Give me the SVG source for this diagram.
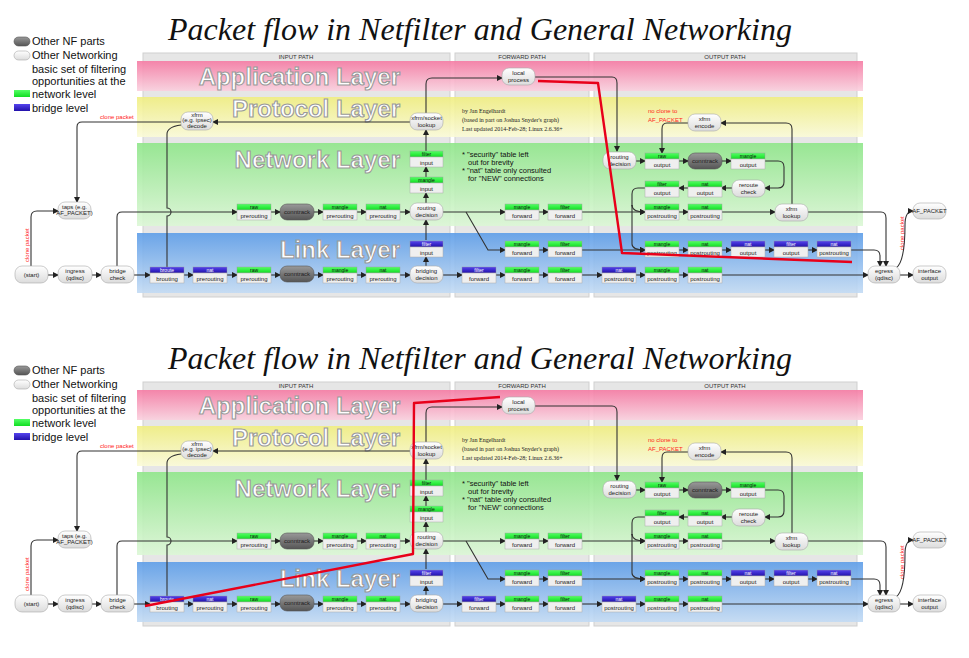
<svg xmlns="http://www.w3.org/2000/svg" width="969" height="658" viewBox="0 0 969 658">
<defs>
<linearGradient id="gA" x1="0" y1="0" x2="0" y2="1"><stop offset="0" stop-color="#f57aa3"/><stop offset="1" stop-color="#fad0de"/></linearGradient>
<linearGradient id="gP" x1="0" y1="0" x2="0" y2="1"><stop offset="0" stop-color="#f0ee80"/><stop offset="1" stop-color="#fbfbd8"/></linearGradient>
<linearGradient id="gN" x1="0" y1="0" x2="0" y2="1"><stop offset="0" stop-color="#8fe68a"/><stop offset="1" stop-color="#dcf7d6"/></linearGradient>
<linearGradient id="gL" x1="0" y1="0" x2="0" y2="1"><stop offset="0" stop-color="#5d9de8"/><stop offset="1" stop-color="#c3dbf4"/></linearGradient>
<linearGradient id="gG" x1="0" y1="0" x2="0" y2="1"><stop offset="0" stop-color="#55ff66"/><stop offset="1" stop-color="#11dd22"/></linearGradient>
<linearGradient id="gB" x1="0" y1="0" x2="0" y2="1"><stop offset="0" stop-color="#5544ee"/><stop offset="1" stop-color="#2211aa"/></linearGradient>
<linearGradient id="gW" x1="0" y1="0" x2="0" y2="1"><stop offset="0" stop-color="#ffffff"/><stop offset="1" stop-color="#dcdcdc"/></linearGradient>
<linearGradient id="gD" x1="0" y1="0" x2="0" y2="1"><stop offset="0" stop-color="#999"/><stop offset="1" stop-color="#555"/></linearGradient>
<marker id="ar" markerWidth="6" markerHeight="6" refX="5" refY="3" orient="auto" markerUnits="userSpaceOnUse"><path d="M0,0 L6,3 L0,6 z" fill="#222"/></marker>
</defs>
<style>
text{font-family:"Liberation Sans",Arial,sans-serif}
.title{font-family:"Liberation Serif",serif;font-style:italic;font-size:32px;fill:#111;text-anchor:middle}
.leg{font-size:11px;fill:#111}
.col{fill:#e6e6e6;stroke:#cfcfcf}
.ch{font-size:6px;fill:#333;text-anchor:middle}
.lay{opacity:.9}
.ll{font-size:24px;font-weight:bold;fill:#fff;stroke:#9a9a9a;stroke-width:1.1;text-anchor:end}
.hg{fill:url(#gG);stroke:#999;stroke-width:.4}
.hb{fill:url(#gB);stroke:#999;stroke-width:.4}
.lo{fill:#efefef;stroke:#aaa;stroke-width:.5}
.ht{font-size:5px;text-anchor:middle;fill:#111}
.hbt{font-size:5px;text-anchor:middle;fill:#fff}
.bt{font-size:6px;text-anchor:middle;fill:#222}
.pill{fill:url(#gW);stroke:#aaa;stroke-width:.6}
.dark{fill:url(#gD);stroke:#555;stroke-width:.6}
.dt{font-size:6px;text-anchor:middle;fill:#222}
.red{font-size:6px;fill:#f22}
.note{font-size:7.5px;fill:#111}
.cred{font-family:"Liberation Serif",serif;font-size:6px;fill:#222}
.cn path{fill:none;stroke:#333;stroke-width:1.1;marker-end:url(#ar)}
.cn path.n{marker-end:none}
.rl{fill:none;stroke:#e8001a;stroke-width:2.4;stroke-linejoin:round}
</style>
<rect width="969" height="658" fill="#fff"/>

<g id="legend">
<rect x="14" y="37" width="16" height="9" rx="4.5" class="dark"/><text x="32" y="45" class="leg">Other NF parts</text>
<rect x="14" y="51" width="16" height="9" rx="4.5" class="pill"/><text x="32" y="59" class="leg">Other Networking</text>
<text x="32" y="73" class="leg">basic set of filtering</text>
<text x="32" y="85" class="leg">opportunities at the</text>
<rect x="14" y="90" width="16" height="7" fill="url(#gG)"/><text x="32" y="98" class="leg">network level</text>
<rect x="14" y="104" width="16" height="7" fill="url(#gB)"/><text x="32" y="112" class="leg">bridge level</text>
</g>
<g id="legend2">
<rect x="14" y="366" width="16" height="9" rx="4.5" class="dark"/><text x="32" y="374" class="leg">Other NF parts</text>
<rect x="14" y="380" width="16" height="9" rx="4.5" class="pill"/><text x="32" y="388" class="leg">Other Networking</text>
<text x="32" y="402" class="leg">basic set of filtering</text>
<text x="32" y="414" class="leg">opportunities at the</text>
<rect x="14" y="419" width="16" height="7" fill="url(#gG)"/><text x="32" y="427" class="leg">network level</text>
<rect x="14" y="433" width="16" height="7" fill="url(#gB)"/><text x="32" y="441" class="leg">bridge level</text>
</g>

<!-- ===================== TOP ===================== -->
<g id="top">
<text x="480" y="40" class="title">Packet flow in Netfilter and General Networking</text>
<g id="cols">
<rect x="143" y="53" width="307" height="244" class="col"/><text x="296" y="59" class="ch">INPUT PATH</text>
<rect x="455" y="53" width="134" height="244" class="col"/><text x="522" y="59" class="ch">FORWARD PATH</text>
<rect x="594" y="53" width="263" height="244" class="col"/><text x="725" y="59" class="ch">OUTPUT PATH</text>
</g>
<g id="layers">
<rect x="137" y="61" width="726" height="30" fill="url(#gA)" class="lay"/>
<rect x="137" y="97" width="726" height="40" fill="url(#gP)" class="lay"/>
<rect x="137" y="143" width="726" height="83" fill="url(#gN)" class="lay"/>
<rect x="137" y="233" width="726" height="60" fill="url(#gL)" class="lay"/>
<text x="400" y="85" class="ll">Application Layer</text>
<text x="400" y="117" class="ll">Protocol Layer</text>
<text x="400" y="168" class="ll">Network Layer</text>
<text x="400" y="258" class="ll">Link Layer</text>
</g>
<g id="notes">
<text x="462" y="113" class="cred">by Jan Engelhardt</text>
<text x="462" y="122" class="cred">(based in part on Joshua Snyder's graph)</text>
<text x="462" y="131" class="cred">Last updated 2014-Feb-28; Linux 2.6.36+</text>
<text x="462" y="157" class="note">* "security" table left</text>
<text x="468" y="165" class="note">out for brevity</text>
<text x="462" y="173" class="note">* "nat" table only consulted</text>
<text x="468" y="181" class="note">for "NEW" connections</text>
<text x="648" y="113" class="red">no clone to</text>
<text x="648" y="122" class="red" font-size="7.5">AF_PACKET</text>
<text x="100" y="119" class="red">clone packet</text>
<text transform="translate(29,262) rotate(-90)" class="red">clone packet</text>
<text transform="translate(904,250) rotate(-90)" class="red">clone packet</text>
</g>
<g class="cn" id="connectors">
<path d="M48,275H58"/><path d="M92,275H101"/><path d="M134,275H150"/><path d="M184,275H193"/><path d="M227,275H237"/><path d="M271,275H280"/><path d="M314,275H323"/><path d="M357,275H366"/><path d="M400,275H410"/><path d="M443,275H462"/><path d="M496,275H505"/><path d="M539,275H548"/><path d="M582,275H602"/><path d="M636,275H645"/><path d="M679,275H688"/><path d="M721,275H868"/><path d="M900,275H913"/>
<path d="M426,266V257"/><path d="M426,240V220"/><path d="M426,203V193"/><path d="M426,177V167"/><path d="M426,151V130"/>
<path d="M426,113V84Q426,78 432,78H502"/><path d="M410,122H213"/>
<path d="M181,122H82Q77,122 77,127V202"/>
<path d="M31,266V217Q31,211 37,211H58"/>
<path d="M117,266V217Q117,212 122,212H237"/>
<path class="n" d="M167,267V216A4,4 0 0 0 167,208V134Q167,127 181,125"/>
<path d="M271,212H280"/><path d="M314,212H323"/><path d="M357,212H366"/><path d="M400,212H410"/>
<path d="M443,212H505"/><path d="M466,212L488,250H505"/>
<path d="M539,212H548"/><path d="M582,212H645"/><path d="M679,212H688"/><path d="M721,212H775"/>
<path d="M539,250H548"/><path d="M582,250H645"/><path d="M679,250H688"/><path d="M721,250H731"/><path d="M765,250H774"/><path d="M808,250H817"/>
<path d="M851,250H874Q880,250 880,256V266"/>
<path d="M808,212H881Q886,212 886,218V266"/>
<path d="M535,77H612Q617,77 617,83V151"/>
<path d="M636,161H645"/><path d="M679,161H688"/><path d="M722,161H731"/>
<path d="M765,161H778Q784,161 784,167V182Q784,188 778,188H765"/>
<path d="M732,188H721"/><path d="M688,188H679"/>
<path class="n" d="M645,188H638Q632,188 632,194V206"/>
<path d="M632,205Q632,212 645,212"/>
<path d="M632,205V244Q632,250 645,250"/>
<path d="M792,204V129Q792,123 786,123H721"/>
<path d="M688,123H667Q662,123 662,129V153"/>
<path d="M896,268Q905,262 905,225Q905,211 913,211"/>
</g>
<g id="n-start"><rect x="15" y="266" width="33" height="17" rx="7" class="pill"/><text x="31.5" y="277" class="dt">(start)</text></g>
<g id="n-ingress"><rect x="58" y="266" width="34" height="17" rx="7" class="pill"/><text x="75" y="273" class="dt">ingress</text><text x="75" y="280" class="dt">(qdisc)</text></g>
<g id="n-bridgecheck"><rect x="101" y="266" width="33" height="17" rx="7" class="pill"/><text x="117.5" y="273" class="dt">bridge</text><text x="117.5" y="280" class="dt">check</text></g>
<g id="n-taps"><rect x="58" y="202" width="33" height="17" rx="7" class="pill"/><text x="74.5" y="209" class="dt" font-size="4.5">taps (e.g.</text><text x="74.5" y="215" class="dt" font-size="4.5">AF_PACKET)</text></g>
<g id="n-decode"><rect x="181" y="112" width="32" height="18" rx="7" class="pill"/><text x="197" y="117" class="dt" font-size="5">xfrm</text><text x="197" y="121.5" class="dt" font-size="3">(e.g. ipsec)</text><text x="197" y="128" class="dt">decode</text></g>
<g id="n-brouting"><rect x="150" y="267" width="34" height="6" class="hb"/><text x="167" y="272" class="hbt">broute</text><rect x="150" y="273" width="34" height="10" class="lo"/><text x="167" y="280.5" class="bt">brouting</text></g>
<g id="n-bnatpre"><rect x="193" y="267" width="34" height="6" class="hb"/><text x="210" y="272" class="hbt">nat</text><rect x="193" y="273" width="34" height="10" class="lo"/><text x="210" y="280.5" class="bt">prerouting</text></g>
<g id="n-lrawpre"><rect x="237" y="267" width="34" height="6" class="hg"/><text x="254" y="272" class="ht">raw</text><rect x="237" y="273" width="34" height="10" class="lo"/><text x="254" y="280.5" class="bt">prerouting</text></g>
<g id="n-lct"><rect x="280" y="266" width="34" height="16" rx="7" class="dark"/><text x="297" y="276" class="dt">conntrack</text></g>
<g id="n-lmanglepre"><rect x="323" y="267" width="34" height="6" class="hg"/><text x="340" y="272" class="ht">mangle</text><rect x="323" y="273" width="34" height="10" class="lo"/><text x="340" y="280.5" class="bt">prerouting</text></g>
<g id="n-lnatpre"><rect x="366" y="267" width="34" height="6" class="hg"/><text x="383" y="272" class="ht">nat</text><rect x="366" y="273" width="34" height="10" class="lo"/><text x="383" y="280.5" class="bt">prerouting</text></g>
<g id="n-bridging"><rect x="410" y="266" width="33" height="17" rx="7" class="pill"/><text x="426.5" y="273" class="dt">bridging</text><text x="426.5" y="280" class="dt">decision</text></g>
<g id="n-bfilterin"><rect x="410" y="241" width="33" height="6" class="hb"/><text x="426.5" y="246" class="hbt">filter</text><rect x="410" y="247" width="33" height="10" class="lo"/><text x="426.5" y="254.5" class="bt">input</text></g>
<g id="n-rawpre"><rect x="237" y="204" width="34" height="6" class="hg"/><text x="254" y="209" class="ht">raw</text><rect x="237" y="210" width="34" height="10" class="lo"/><text x="254" y="217.5" class="bt">prerouting</text></g>
<g id="n-ct"><rect x="280" y="204" width="34" height="16" rx="7" class="dark"/><text x="297" y="214" class="dt">conntrack</text></g>
<g id="n-manglepre"><rect x="323" y="204" width="34" height="6" class="hg"/><text x="340" y="209" class="ht">mangle</text><rect x="323" y="210" width="34" height="10" class="lo"/><text x="340" y="217.5" class="bt">prerouting</text></g>
<g id="n-natpre"><rect x="366" y="204" width="34" height="6" class="hg"/><text x="383" y="209" class="ht">nat</text><rect x="366" y="210" width="34" height="10" class="lo"/><text x="383" y="217.5" class="bt">prerouting</text></g>
<g id="n-routing"><rect x="410" y="203" width="33" height="17" rx="7" class="pill"/><text x="426.5" y="210" class="dt">routing</text><text x="426.5" y="217" class="dt">decision</text></g>
<g id="n-manglein"><rect x="410" y="177" width="33" height="6" class="hg"/><text x="426.5" y="182" class="ht">mangle</text><rect x="410" y="183" width="33" height="10" class="lo"/><text x="426.5" y="190.5" class="bt">input</text></g>
<g id="n-filterin"><rect x="410" y="151" width="33" height="6" class="hg"/><text x="426.5" y="156" class="ht">filter</text><rect x="410" y="157" width="33" height="10" class="lo"/><text x="426.5" y="164.5" class="bt">input</text></g>
<g id="n-socket"><rect x="410" y="113" width="33" height="17" rx="7" class="pill"/><text x="426.5" y="120" class="dt" font-size="5">xfrm/socket</text><text x="426.5" y="127" class="dt">lookup</text></g>
<g id="n-local"><rect x="502" y="68" width="33" height="17" rx="7" class="pill"/><text x="518.5" y="75" class="dt">local</text><text x="518.5" y="82" class="dt">process</text></g>
<g id="n-fmfwd"><rect x="505" y="204" width="34" height="6" class="hg"/><text x="522" y="209" class="ht">mangle</text><rect x="505" y="210" width="34" height="10" class="lo"/><text x="522" y="217.5" class="bt">forward</text></g>
<g id="n-fffwd"><rect x="548" y="204" width="34" height="6" class="hg"/><text x="565" y="209" class="ht">filter</text><rect x="548" y="210" width="34" height="10" class="lo"/><text x="565" y="217.5" class="bt">forward</text></g>
<g id="n-lmfwd"><rect x="505" y="241" width="34" height="6" class="hg"/><text x="522" y="246" class="ht">mangle</text><rect x="505" y="247" width="34" height="10" class="lo"/><text x="522" y="254.5" class="bt">forward</text></g>
<g id="n-lffwd"><rect x="548" y="241" width="34" height="6" class="hg"/><text x="565" y="246" class="ht">filter</text><rect x="548" y="247" width="34" height="10" class="lo"/><text x="565" y="254.5" class="bt">forward</text></g>
<g id="n-bffwd"><rect x="462" y="267" width="34" height="6" class="hb"/><text x="479" y="272" class="hbt">filter</text><rect x="462" y="273" width="34" height="10" class="lo"/><text x="479" y="280.5" class="bt">forward</text></g>
<g id="n-bmfwd"><rect x="505" y="267" width="34" height="6" class="hg"/><text x="522" y="272" class="ht">mangle</text><rect x="505" y="273" width="34" height="10" class="lo"/><text x="522" y="280.5" class="bt">forward</text></g>
<g id="n-bf2fwd"><rect x="548" y="267" width="34" height="6" class="hg"/><text x="565" y="272" class="ht">filter</text><rect x="548" y="273" width="34" height="10" class="lo"/><text x="565" y="280.5" class="bt">forward</text></g>
<g id="n-oroute"><rect x="603" y="152" width="33" height="17" rx="7" class="pill"/><text x="619.5" y="159" class="dt">routing</text><text x="619.5" y="166" class="dt">decision</text></g>
<g id="n-rawout"><rect x="645" y="153" width="34" height="6" class="hg"/><text x="662" y="158" class="ht">raw</text><rect x="645" y="159" width="34" height="10" class="lo"/><text x="662" y="166.5" class="bt">output</text></g>
<g id="n-oct"><rect x="688" y="153" width="34" height="16" rx="7" class="dark"/><text x="705" y="163" class="dt">conntrack</text></g>
<g id="n-mangleout"><rect x="731" y="153" width="34" height="6" class="hg"/><text x="748" y="158" class="ht">mangle</text><rect x="731" y="159" width="34" height="10" class="lo"/><text x="748" y="166.5" class="bt">output</text></g>
<g id="n-reroute"><rect x="732" y="180" width="33" height="17" rx="7" class="pill"/><text x="748.5" y="187" class="dt">reroute</text><text x="748.5" y="194" class="dt">check</text></g>
<g id="n-natout"><rect x="688" y="181" width="34" height="6" class="hg"/><text x="705" y="186" class="ht">nat</text><rect x="688" y="187" width="34" height="10" class="lo"/><text x="705" y="194.5" class="bt">output</text></g>
<g id="n-filterout"><rect x="645" y="181" width="34" height="6" class="hg"/><text x="662" y="186" class="ht">filter</text><rect x="645" y="187" width="34" height="10" class="lo"/><text x="662" y="194.5" class="bt">output</text></g>
<g id="n-encode"><rect x="688" y="114" width="33" height="17" rx="7" class="pill"/><text x="704.5" y="121" class="dt">xfrm</text><text x="704.5" y="128" class="dt">encode</text></g>
<g id="n-manglepost"><rect x="645" y="204" width="34" height="6" class="hg"/><text x="662" y="209" class="ht">mangle</text><rect x="645" y="210" width="34" height="10" class="lo"/><text x="662" y="217.5" class="bt">postrouting</text></g>
<g id="n-natpost"><rect x="688" y="204" width="34" height="6" class="hg"/><text x="705" y="209" class="ht">nat</text><rect x="688" y="210" width="34" height="10" class="lo"/><text x="705" y="217.5" class="bt">postrouting</text></g>
<g id="n-xlookup"><rect x="775" y="204" width="33" height="17" rx="7" class="pill"/><text x="791.5" y="211" class="dt">xfrm</text><text x="791.5" y="218" class="dt">lookup</text></g>
<g id="n-lmpost"><rect x="645" y="241" width="34" height="6" class="hg"/><text x="662" y="246" class="ht">mangle</text><rect x="645" y="247" width="34" height="10" class="lo"/><text x="662" y="254.5" class="bt">postrouting</text></g>
<g id="n-lnpost"><rect x="688" y="241" width="34" height="6" class="hg"/><text x="705" y="246" class="ht">nat</text><rect x="688" y="247" width="34" height="10" class="lo"/><text x="705" y="254.5" class="bt">postrouting</text></g>
<g id="n-bnatout"><rect x="731" y="241" width="34" height="6" class="hb"/><text x="748" y="246" class="hbt">nat</text><rect x="731" y="247" width="34" height="10" class="lo"/><text x="748" y="254.5" class="bt">output</text></g>
<g id="n-bfout"><rect x="774" y="241" width="34" height="6" class="hb"/><text x="791" y="246" class="hbt">filter</text><rect x="774" y="247" width="34" height="10" class="lo"/><text x="791" y="254.5" class="bt">output</text></g>
<g id="n-bnpost"><rect x="817" y="241" width="34" height="6" class="hb"/><text x="834" y="246" class="hbt">nat</text><rect x="817" y="247" width="34" height="10" class="lo"/><text x="834" y="254.5" class="bt">postrouting</text></g>
<g id="n-bnpost2"><rect x="602" y="267" width="34" height="6" class="hb"/><text x="619" y="272" class="hbt">nat</text><rect x="602" y="273" width="34" height="10" class="lo"/><text x="619" y="280.5" class="bt">postrouting</text></g>
<g id="n-bmpost"><rect x="645" y="267" width="34" height="6" class="hg"/><text x="662" y="272" class="ht">mangle</text><rect x="645" y="273" width="34" height="10" class="lo"/><text x="662" y="280.5" class="bt">postrouting</text></g>
<g id="n-bnatpost3"><rect x="688" y="267" width="34" height="6" class="hg"/><text x="705" y="272" class="ht">nat</text><rect x="688" y="273" width="34" height="10" class="lo"/><text x="705" y="280.5" class="bt">postrouting</text></g>
<g id="n-egress"><rect x="868" y="266" width="32" height="17" rx="7" class="pill"/><text x="884" y="273" class="dt">egress</text><text x="884" y="280" class="dt">(qdisc)</text></g>
<g id="n-ifout"><rect x="913" y="266" width="33" height="17" rx="7" class="pill"/><text x="929.5" y="273" class="dt">interface</text><text x="929.5" y="280" class="dt">output</text></g>
<g id="n-afp"><rect x="913" y="203" width="33" height="16" rx="7" class="pill"/><text x="929.5" y="213" class="dt" font-size="5">AF_PACKET</text></g>
<path class="rl" d="M538,81 L598,83 L622,253 L852,262"/>
</g>

<!-- ===================== BOTTOM ===================== -->
<g id="bottom" transform="translate(0,329)">
<text x="480" y="40" class="title">Packet flow in Netfilter and General Networking</text>
<g id="cols2">
<rect x="143" y="53" width="307" height="244" class="col"/><text x="296" y="59" class="ch">INPUT PATH</text>
<rect x="455" y="53" width="134" height="244" class="col"/><text x="522" y="59" class="ch">FORWARD PATH</text>
<rect x="594" y="53" width="263" height="244" class="col"/><text x="725" y="59" class="ch">OUTPUT PATH</text>
</g>
<g id="layers2">
<rect x="137" y="61" width="726" height="30" fill="url(#gA)" class="lay"/>
<rect x="137" y="97" width="726" height="40" fill="url(#gP)" class="lay"/>
<rect x="137" y="143" width="726" height="83" fill="url(#gN)" class="lay"/>
<rect x="137" y="233" width="726" height="60" fill="url(#gL)" class="lay"/>
<text x="400" y="85" class="ll">Application Layer</text>
<text x="400" y="117" class="ll">Protocol Layer</text>
<text x="400" y="168" class="ll">Network Layer</text>
<text x="400" y="258" class="ll">Link Layer</text>
</g>
<g id="notes2">
<text x="462" y="113" class="cred">by Jan Engelhardt</text>
<text x="462" y="122" class="cred">(based in part on Joshua Snyder's graph)</text>
<text x="462" y="131" class="cred">Last updated 2014-Feb-28; Linux 2.6.36+</text>
<text x="462" y="157" class="note">* "security" table left</text>
<text x="468" y="165" class="note">out for brevity</text>
<text x="462" y="173" class="note">* "nat" table only consulted</text>
<text x="468" y="181" class="note">for "NEW" connections</text>
<text x="648" y="113" class="red">no clone to</text>
<text x="648" y="122" class="red" font-size="7.5">AF_PACKET</text>
<text x="100" y="119" class="red">clone packet</text>
<text transform="translate(29,262) rotate(-90)" class="red">clone packet</text>
<text transform="translate(904,250) rotate(-90)" class="red">clone packet</text>
</g>
<g class="cn" id="connectors2">
<path d="M48,275H58"/><path d="M92,275H101"/><path d="M134,275H150"/><path d="M184,275H193"/><path d="M227,275H237"/><path d="M271,275H280"/><path d="M314,275H323"/><path d="M357,275H366"/><path d="M400,275H410"/><path d="M443,275H462"/><path d="M496,275H505"/><path d="M539,275H548"/><path d="M582,275H602"/><path d="M636,275H645"/><path d="M679,275H688"/><path d="M721,275H868"/><path d="M900,275H913"/>
<path d="M426,266V257"/><path d="M426,240V220"/><path d="M426,203V193"/><path d="M426,177V167"/><path d="M426,151V130"/>
<path d="M426,113V84Q426,78 432,78H502"/><path d="M410,122H213"/>
<path d="M181,122H82Q77,122 77,127V202"/>
<path d="M31,266V217Q31,211 37,211H58"/>
<path d="M117,266V217Q117,212 122,212H237"/>
<path class="n" d="M167,267V216A4,4 0 0 0 167,208V134Q167,127 181,125"/>
<path d="M271,212H280"/><path d="M314,212H323"/><path d="M357,212H366"/><path d="M400,212H410"/>
<path d="M443,212H505"/><path d="M466,212L488,250H505"/>
<path d="M539,212H548"/><path d="M582,212H645"/><path d="M679,212H688"/><path d="M721,212H775"/>
<path d="M539,250H548"/><path d="M582,250H645"/><path d="M679,250H688"/><path d="M721,250H731"/><path d="M765,250H774"/><path d="M808,250H817"/>
<path d="M851,250H874Q880,250 880,256V266"/>
<path d="M808,212H881Q886,212 886,218V266"/>
<path d="M535,77H612Q617,77 617,83V151"/>
<path d="M636,161H645"/><path d="M679,161H688"/><path d="M722,161H731"/>
<path d="M765,161H778Q784,161 784,167V182Q784,188 778,188H765"/>
<path d="M732,188H721"/><path d="M688,188H679"/>
<path class="n" d="M645,188H638Q632,188 632,194V206"/>
<path d="M632,205Q632,212 645,212"/>
<path d="M632,205V244Q632,250 645,250"/>
<path d="M792,204V129Q792,123 786,123H721"/>
<path d="M688,123H667Q662,123 662,129V153"/>
<path d="M896,268Q905,262 905,225Q905,211 913,211"/>
</g>
<g id="b-start"><rect x="15" y="266" width="33" height="17" rx="7" class="pill"/><text x="31.5" y="277" class="dt">(start)</text></g>
<g id="b-ingress"><rect x="58" y="266" width="34" height="17" rx="7" class="pill"/><text x="75" y="273" class="dt">ingress</text><text x="75" y="280" class="dt">(qdisc)</text></g>
<g id="b-bridgecheck"><rect x="101" y="266" width="33" height="17" rx="7" class="pill"/><text x="117.5" y="273" class="dt">bridge</text><text x="117.5" y="280" class="dt">check</text></g>
<g id="b-taps"><rect x="58" y="202" width="33" height="17" rx="7" class="pill"/><text x="74.5" y="209" class="dt" font-size="4.5">taps (e.g.</text><text x="74.5" y="215" class="dt" font-size="4.5">AF_PACKET)</text></g>
<g id="b-decode"><rect x="181" y="112" width="32" height="18" rx="7" class="pill"/><text x="197" y="117" class="dt" font-size="5">xfrm</text><text x="197" y="121.5" class="dt" font-size="3">(e.g. ipsec)</text><text x="197" y="128" class="dt">decode</text></g>
<g id="b-brouting"><rect x="150" y="267" width="34" height="6" class="hb"/><text x="167" y="272" class="hbt">broute</text><rect x="150" y="273" width="34" height="10" class="lo"/><text x="167" y="280.5" class="bt">brouting</text></g>
<g id="b-bnatpre"><rect x="193" y="267" width="34" height="6" class="hb"/><text x="210" y="272" class="hbt">nat</text><rect x="193" y="273" width="34" height="10" class="lo"/><text x="210" y="280.5" class="bt">prerouting</text></g>
<g id="b-lrawpre"><rect x="237" y="267" width="34" height="6" class="hg"/><text x="254" y="272" class="ht">raw</text><rect x="237" y="273" width="34" height="10" class="lo"/><text x="254" y="280.5" class="bt">prerouting</text></g>
<g id="b-lct"><rect x="280" y="266" width="34" height="16" rx="7" class="dark"/><text x="297" y="276" class="dt">conntrack</text></g>
<g id="b-lmanglepre"><rect x="323" y="267" width="34" height="6" class="hg"/><text x="340" y="272" class="ht">mangle</text><rect x="323" y="273" width="34" height="10" class="lo"/><text x="340" y="280.5" class="bt">prerouting</text></g>
<g id="b-lnatpre"><rect x="366" y="267" width="34" height="6" class="hg"/><text x="383" y="272" class="ht">nat</text><rect x="366" y="273" width="34" height="10" class="lo"/><text x="383" y="280.5" class="bt">prerouting</text></g>
<g id="b-bridging"><rect x="410" y="266" width="33" height="17" rx="7" class="pill"/><text x="426.5" y="273" class="dt">bridging</text><text x="426.5" y="280" class="dt">decision</text></g>
<g id="b-bfilterin"><rect x="410" y="241" width="33" height="6" class="hb"/><text x="426.5" y="246" class="hbt">filter</text><rect x="410" y="247" width="33" height="10" class="lo"/><text x="426.5" y="254.5" class="bt">input</text></g>
<g id="b-rawpre"><rect x="237" y="204" width="34" height="6" class="hg"/><text x="254" y="209" class="ht">raw</text><rect x="237" y="210" width="34" height="10" class="lo"/><text x="254" y="217.5" class="bt">prerouting</text></g>
<g id="b-ct"><rect x="280" y="204" width="34" height="16" rx="7" class="dark"/><text x="297" y="214" class="dt">conntrack</text></g>
<g id="b-manglepre"><rect x="323" y="204" width="34" height="6" class="hg"/><text x="340" y="209" class="ht">mangle</text><rect x="323" y="210" width="34" height="10" class="lo"/><text x="340" y="217.5" class="bt">prerouting</text></g>
<g id="b-natpre"><rect x="366" y="204" width="34" height="6" class="hg"/><text x="383" y="209" class="ht">nat</text><rect x="366" y="210" width="34" height="10" class="lo"/><text x="383" y="217.5" class="bt">prerouting</text></g>
<g id="b-routing"><rect x="410" y="203" width="33" height="17" rx="7" class="pill"/><text x="426.5" y="210" class="dt">routing</text><text x="426.5" y="217" class="dt">decision</text></g>
<g id="b-manglein"><rect x="410" y="177" width="33" height="6" class="hg"/><text x="426.5" y="182" class="ht">mangle</text><rect x="410" y="183" width="33" height="10" class="lo"/><text x="426.5" y="190.5" class="bt">input</text></g>
<g id="b-filterin"><rect x="410" y="151" width="33" height="6" class="hg"/><text x="426.5" y="156" class="ht">filter</text><rect x="410" y="157" width="33" height="10" class="lo"/><text x="426.5" y="164.5" class="bt">input</text></g>
<g id="b-socket"><rect x="410" y="113" width="33" height="17" rx="7" class="pill"/><text x="426.5" y="120" class="dt" font-size="5">xfrm/socket</text><text x="426.5" y="127" class="dt">lookup</text></g>
<g id="b-local"><rect x="502" y="68" width="33" height="17" rx="7" class="pill"/><text x="518.5" y="75" class="dt">local</text><text x="518.5" y="82" class="dt">process</text></g>
<g id="b-fmfwd"><rect x="505" y="204" width="34" height="6" class="hg"/><text x="522" y="209" class="ht">mangle</text><rect x="505" y="210" width="34" height="10" class="lo"/><text x="522" y="217.5" class="bt">forward</text></g>
<g id="b-fffwd"><rect x="548" y="204" width="34" height="6" class="hg"/><text x="565" y="209" class="ht">filter</text><rect x="548" y="210" width="34" height="10" class="lo"/><text x="565" y="217.5" class="bt">forward</text></g>
<g id="b-lmfwd"><rect x="505" y="241" width="34" height="6" class="hg"/><text x="522" y="246" class="ht">mangle</text><rect x="505" y="247" width="34" height="10" class="lo"/><text x="522" y="254.5" class="bt">forward</text></g>
<g id="b-lffwd"><rect x="548" y="241" width="34" height="6" class="hg"/><text x="565" y="246" class="ht">filter</text><rect x="548" y="247" width="34" height="10" class="lo"/><text x="565" y="254.5" class="bt">forward</text></g>
<g id="b-bffwd"><rect x="462" y="267" width="34" height="6" class="hb"/><text x="479" y="272" class="hbt">filter</text><rect x="462" y="273" width="34" height="10" class="lo"/><text x="479" y="280.5" class="bt">forward</text></g>
<g id="b-bmfwd"><rect x="505" y="267" width="34" height="6" class="hg"/><text x="522" y="272" class="ht">mangle</text><rect x="505" y="273" width="34" height="10" class="lo"/><text x="522" y="280.5" class="bt">forward</text></g>
<g id="b-bf2fwd"><rect x="548" y="267" width="34" height="6" class="hg"/><text x="565" y="272" class="ht">filter</text><rect x="548" y="273" width="34" height="10" class="lo"/><text x="565" y="280.5" class="bt">forward</text></g>
<g id="b-oroute"><rect x="603" y="152" width="33" height="17" rx="7" class="pill"/><text x="619.5" y="159" class="dt">routing</text><text x="619.5" y="166" class="dt">decision</text></g>
<g id="b-rawout"><rect x="645" y="153" width="34" height="6" class="hg"/><text x="662" y="158" class="ht">raw</text><rect x="645" y="159" width="34" height="10" class="lo"/><text x="662" y="166.5" class="bt">output</text></g>
<g id="b-oct"><rect x="688" y="153" width="34" height="16" rx="7" class="dark"/><text x="705" y="163" class="dt">conntrack</text></g>
<g id="b-mangleout"><rect x="731" y="153" width="34" height="6" class="hg"/><text x="748" y="158" class="ht">mangle</text><rect x="731" y="159" width="34" height="10" class="lo"/><text x="748" y="166.5" class="bt">output</text></g>
<g id="b-reroute"><rect x="732" y="180" width="33" height="17" rx="7" class="pill"/><text x="748.5" y="187" class="dt">reroute</text><text x="748.5" y="194" class="dt">check</text></g>
<g id="b-natout"><rect x="688" y="181" width="34" height="6" class="hg"/><text x="705" y="186" class="ht">nat</text><rect x="688" y="187" width="34" height="10" class="lo"/><text x="705" y="194.5" class="bt">output</text></g>
<g id="b-filterout"><rect x="645" y="181" width="34" height="6" class="hg"/><text x="662" y="186" class="ht">filter</text><rect x="645" y="187" width="34" height="10" class="lo"/><text x="662" y="194.5" class="bt">output</text></g>
<g id="b-encode"><rect x="688" y="114" width="33" height="17" rx="7" class="pill"/><text x="704.5" y="121" class="dt">xfrm</text><text x="704.5" y="128" class="dt">encode</text></g>
<g id="b-manglepost"><rect x="645" y="204" width="34" height="6" class="hg"/><text x="662" y="209" class="ht">mangle</text><rect x="645" y="210" width="34" height="10" class="lo"/><text x="662" y="217.5" class="bt">postrouting</text></g>
<g id="b-natpost"><rect x="688" y="204" width="34" height="6" class="hg"/><text x="705" y="209" class="ht">nat</text><rect x="688" y="210" width="34" height="10" class="lo"/><text x="705" y="217.5" class="bt">postrouting</text></g>
<g id="b-xlookup"><rect x="775" y="204" width="33" height="17" rx="7" class="pill"/><text x="791.5" y="211" class="dt">xfrm</text><text x="791.5" y="218" class="dt">lookup</text></g>
<g id="b-lmpost"><rect x="645" y="241" width="34" height="6" class="hg"/><text x="662" y="246" class="ht">mangle</text><rect x="645" y="247" width="34" height="10" class="lo"/><text x="662" y="254.5" class="bt">postrouting</text></g>
<g id="b-lnpost"><rect x="688" y="241" width="34" height="6" class="hg"/><text x="705" y="246" class="ht">nat</text><rect x="688" y="247" width="34" height="10" class="lo"/><text x="705" y="254.5" class="bt">postrouting</text></g>
<g id="b-bnatout"><rect x="731" y="241" width="34" height="6" class="hb"/><text x="748" y="246" class="hbt">nat</text><rect x="731" y="247" width="34" height="10" class="lo"/><text x="748" y="254.5" class="bt">output</text></g>
<g id="b-bfout"><rect x="774" y="241" width="34" height="6" class="hb"/><text x="791" y="246" class="hbt">filter</text><rect x="774" y="247" width="34" height="10" class="lo"/><text x="791" y="254.5" class="bt">output</text></g>
<g id="b-bnpost"><rect x="817" y="241" width="34" height="6" class="hb"/><text x="834" y="246" class="hbt">nat</text><rect x="817" y="247" width="34" height="10" class="lo"/><text x="834" y="254.5" class="bt">postrouting</text></g>
<g id="b-bnpost2"><rect x="602" y="267" width="34" height="6" class="hb"/><text x="619" y="272" class="hbt">nat</text><rect x="602" y="273" width="34" height="10" class="lo"/><text x="619" y="280.5" class="bt">postrouting</text></g>
<g id="b-bmpost"><rect x="645" y="267" width="34" height="6" class="hg"/><text x="662" y="272" class="ht">mangle</text><rect x="645" y="273" width="34" height="10" class="lo"/><text x="662" y="280.5" class="bt">postrouting</text></g>
<g id="b-bnatpost3"><rect x="688" y="267" width="34" height="6" class="hg"/><text x="705" y="272" class="ht">nat</text><rect x="688" y="273" width="34" height="10" class="lo"/><text x="705" y="280.5" class="bt">postrouting</text></g>
<g id="b-egress"><rect x="868" y="266" width="32" height="17" rx="7" class="pill"/><text x="884" y="273" class="dt">egress</text><text x="884" y="280" class="dt">(qdisc)</text></g>
<g id="b-ifout"><rect x="913" y="266" width="33" height="17" rx="7" class="pill"/><text x="929.5" y="273" class="dt">interface</text><text x="929.5" y="280" class="dt">output</text></g>
<g id="b-afp"><rect x="913" y="203" width="33" height="16" rx="7" class="pill"/><text x="929.5" y="213" class="dt" font-size="5">AF_PACKET</text></g>
<path class="rl" d="M145,277 L413,225 L414,74 L500,68"/>
</g>
</svg>
